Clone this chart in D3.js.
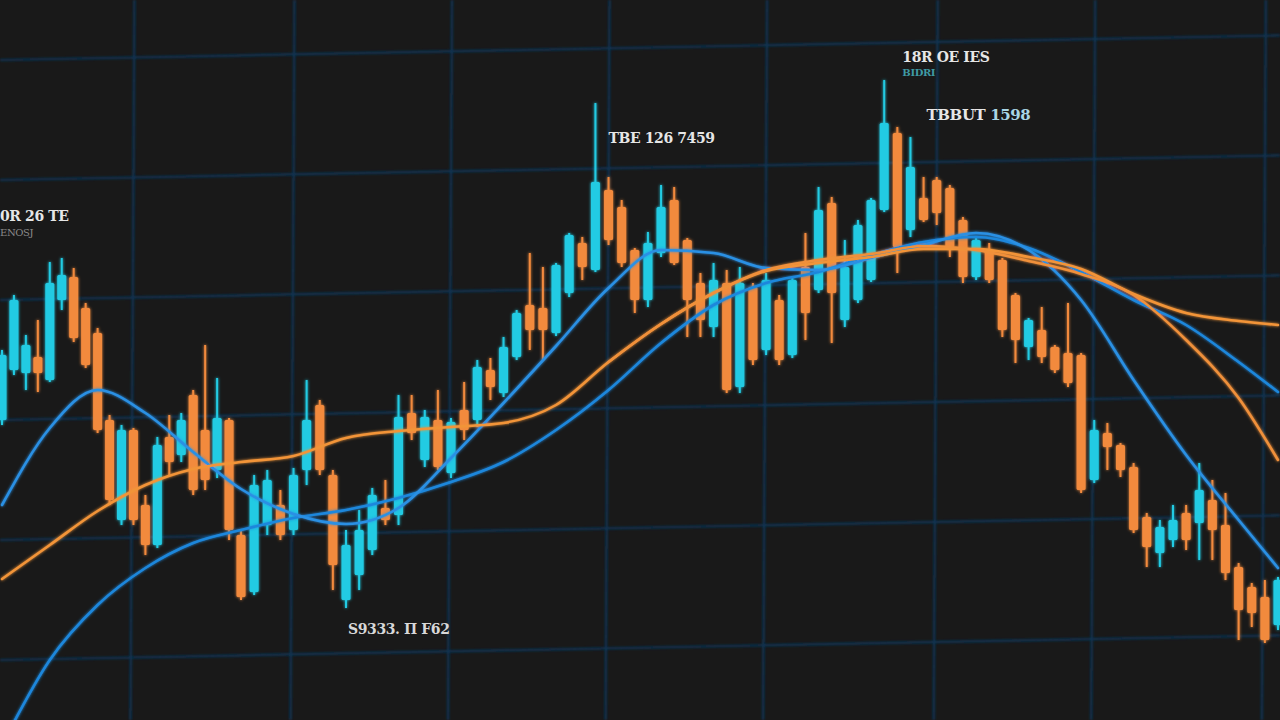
<!DOCTYPE html>
<html>
<head>
<meta charset="utf-8">
<script src="https://cdn.jsdelivr.net/npm/d3@7/dist/d3.min.js"></script>
<style>
  html, body { margin: 0; padding: 0; background: #191919; }
  svg { display: block; }
</style>
</head>
<body>
<svg id="chart" width="1280" height="720"></svg>
<script>
// ---- DATA ----
// candles: open, high, low, close per trading day (index)
const opens  = [130.0,135.0,134.7,136.3,134.0,142.0,144.3,141.2,138.7,130.0,120.0,129.0,121.5,117.5,128.3,126.5,132.5,129.0,125.0,130.0,
                118.5,112.8,119.5,121.5,119.0,125.0,131.5,124.5,112.0,114.5,117.0,121.2,120.5,130.7,126.0,130.0,124.7,131.0,130.0,135.0,
                132.7,136.3,141.5,141.2,138.7,142.7,147.7,145.0,153.0,151.3,147.0,142.0,146.7,152.0,148.0,143.7,139.3,143.7,133.3,143.3,
                137.0,142.0,136.5,145.3,143.0,151.7,140.0,142.0,144.0,151.0,158.7,149.0,152.2,154.0,153.2,150.0,144.3,147.0,146.0,142.5,
                137.3,139.0,137.3,136.7,136.5,124.0,128.7,127.5,125.3,120.3,116.7,118.0,120.7,119.7,122.0,119.5,115.3,113.3,112.3,109.5];
const highs  = [137.0,142.5,138.5,140.0,145.8,146.2,145.2,141.7,139.2,130.5,129.5,129.2,122.5,128.3,130.5,130.7,133.0,137.5,134.2,130.2,
                119.0,124.5,125.0,123.0,125.2,134.0,132.0,125.0,119.0,121.0,123.2,124.0,132.5,132.5,131.0,133.0,130.2,133.8,136.0,136.2,
                138.3,141.0,146.7,145.3,145.7,148.7,148.3,161.7,154.3,152.0,147.2,148.8,153.5,153.3,148.2,144.7,145.7,145.0,145.3,143.7,
                144.7,142.5,144.3,148.7,153.3,152.3,148.0,150.0,152.2,164.0,159.3,158.3,154.3,154.3,153.5,150.3,148.3,147.7,146.2,142.7,
                140.2,141.3,137.5,141.7,136.7,130.0,129.7,127.7,125.7,120.7,120.0,121.5,121.5,125.7,124.0,122.7,115.7,113.7,114.0,114.3];
const lows   = [129.5,134.5,133.0,132.8,133.8,141.0,137.8,135.2,128.7,121.5,119.5,119.5,116.5,117.2,124.5,125.8,122.5,123.0,124.2,118.0,
                112.0,112.5,118.5,118.0,118.5,123.5,124.5,113.0,111.2,113.0,116.5,119.5,119.5,128.0,125.3,125.0,124.2,128.0,129.3,132.0,
                132.3,136.0,137.0,136.0,138.4,142.3,144.0,144.8,147.5,145.3,140.7,141.3,146.3,145.5,138.3,138.3,138.3,132.7,132.7,135.5,
                136.5,135.5,136.2,138.0,142.7,137.7,139.3,141.7,143.8,150.8,144.7,148.3,149.8,149.5,146.3,143.7,144.0,143.7,138.3,135.7,
                136.0,135.7,134.7,133.3,122.7,123.7,125.0,124.3,118.7,115.3,115.3,117.3,117.0,116.0,116.0,114.0,108.0,109.3,107.7,109.0];
const closes = [136.5,142.0,137.5,134.7,143.7,144.5,138.2,135.5,129.0,122.0,129.0,120.0,117.5,127.5,125.8,130.0,123.0,124.0,130.2,119.0,
                112.3,123.5,124.0,118.5,124.5,130.0,125.0,115.5,117.5,119.0,122.5,120.0,130.3,128.7,130.3,125.3,129.8,129.0,135.3,133.3,
                137.3,140.7,139.0,139.0,145.5,148.5,145.3,153.8,148.0,145.7,142.0,147.7,151.3,145.7,142.0,140.0,144.0,133.0,143.7,136.0,
                144.0,136.0,144.0,140.7,151.0,142.7,145.3,149.5,152.0,159.7,147.3,155.3,150.0,150.7,147.3,144.3,148.0,144.0,139.0,138.0,
                140.0,136.3,135.0,133.7,123.0,129.0,127.3,125.0,119.0,117.3,119.3,120.0,118.0,123.0,119.0,114.7,111.0,110.7,108.0,114.0];

// moving-average lines, sampled at these day indices
const maDays = [0,4,8,12,16,20,24,28,32,36,40,44,48,52,56,60,64,68,72,76,80,84,88,92,96,99];
const maSlowOrange = [114.1,117.5,120.9,123.5,125.1,125.8,126.4,128.2,128.9,129.3,129.7,131.5,135.8,139.6,142.7,144.9,145.7,146.3,147.1,147.1,146.3,145.1,142.6,140.7,139.9,139.5];
const maFastBlue   = [121.5,129.2,133.0,130.7,126.8,123.1,120.6,119.6,121.2,126.2,131.7,137.4,143.2,147.0,146.7,145.2,145.0,146.2,147.5,148.7,147.0,142.0,134.0,126.5,120.0,115.2];
const maSlowBlue   = [97.5,106.0,111.5,115.2,117.7,119.0,120.2,121.0,122.2,123.8,125.8,129.0,133.0,137.7,141.5,143.7,144.8,146.5,147.8,148.3,147.2,144.8,142.0,139.5,135.8,132.8];
const maFastOrangeDays = [48,52,56,60,64,68,72,76,80,84,88,92,96,99];
const maFastOrange = [135.8,139.6,142.7,145.0,146.0,146.6,147.4,147.0,145.9,144.6,142.5,138.0,132.2,126.0];

// grid ticks
const priceTicks = [166,154,142,130,118,106];
const dayTicks = [11,24,36,48,60,73,85,98];

// annotation labels: text parts, anchor day, anchor price
const labelTexts  = [["TBE 126 7459"], ["18R OE IES"], ["BIDRI"], ["TBBUT ", "1598"], ["0R 26 TE"], ["ENOSJ"], ["S9333. Π F62"]];
const labelDays   = [48, 70, 70, 72, 0, 0, 28];
const labelPrices = [157.7, 165.8, 164.4, 160.0, 149.9, 148.4, 108.6];

// ---- DRAW ----
const W = 1280, H = 720;
const svg = d3.select("#chart");
const x = d3.scaleLinear().domain([0, 20, 99]).range([2, 241, 1278]);
const y = d3.scaleLinear().domain([100, 172]).range([H, 0]);

svg.append("rect").attr("width", W).attr("height", H).attr("fill", "#191919");

const defs = svg.append("defs");
const glow = defs.append("filter").attr("id", "glow").attr("x", "-20%").attr("y", "-20%").attr("width", "140%").attr("height", "140%");
glow.append("feGaussianBlur").attr("stdDeviation", 1.6).attr("result", "b");
const mg = glow.append("feMerge");
mg.append("feMergeNode").attr("in", "b");
mg.append("feMergeNode").attr("in", "SourceGraphic");

const gridBlur = defs.append("filter").attr("id", "gblur");
gridBlur.append("feGaussianBlur").attr("stdDeviation", 0.8);

// grid (slightly tilted)
const grid = svg.append("g").attr("filter", "url(#gblur)");
const hGrid = grid.append("g").attr("transform", "skewY(-1.1)");
hGrid.selectAll("line").data(priceTicks).join("line")
  .attr("x1", 0).attr("x2", W)
  .attr("y1", d => y(d)).attr("y2", d => y(d))
  .attr("stroke", "#0c3556").attr("stroke-width", 2.2);
grid.append("g").selectAll("line").data(dayTicks).join("line")
  .attr("x1", d => x(d) + 1).attr("x2", d => x(d) - 3)
  .attr("y1", 0).attr("y2", H)
  .attr("stroke", "#0c3556").attr("stroke-width", 2.2);

// candles
const upColor = "#22cbe3", downColor = "#f28a3e";
const candles = opens.map((o, i) => ({i, o, h: highs[i], l: lows[i], c: closes[i]}));
const bodyW = 9;
const cg = svg.append("g").attr("filter", "url(#glow)");
cg.selectAll("line.wick").data(candles).join("line")
  .attr("class", "wick")
  .attr("x1", d => x(d.i)).attr("x2", d => x(d.i))
  .attr("y1", d => y(d.h)).attr("y2", d => y(d.l))
  .attr("stroke", d => d.c >= d.o ? upColor : downColor)
  .attr("stroke-width", 2);
cg.selectAll("rect.body").data(candles).join("rect")
  .attr("class", "body")
  .attr("x", d => x(d.i) - bodyW / 2)
  .attr("width", bodyW)
  .attr("y", d => y(Math.max(d.o, d.c)))
  .attr("height", d => Math.max(2, Math.abs(y(d.o) - y(d.c))))
  .attr("rx", 1.5)
  .attr("fill", d => d.c >= d.o ? upColor : downColor);

// moving averages
const lineGen = d3.line().x(d => x(d[0])).y(d => y(d[1])).curve(d3.curveMonotoneX);
const lg = svg.append("g").attr("filter", "url(#glow)").attr("fill", "none").attr("stroke-linecap", "round");
const series = [
  {days: maDays, vals: maSlowBlue, color: "#1f87dc"},
  {days: maDays, vals: maFastBlue, color: "#2a90e4"},
  {days: maDays, vals: maSlowOrange, color: "#f29438"},
  {days: maFastOrangeDays, vals: maFastOrange, color: "#f0903a"}
];
series.forEach(s => {
  lg.append("path")
    .datum(s.days.map((d, k) => [d, s.vals[k]]))
    .attr("d", lineGen)
    .attr("stroke", s.color)
    .attr("stroke-width", 2.6);
});

// labels
const styles = [
  {size: 14, fills: ["#e6e6e6"], weight: "bold", dx: 0},
  {size: 14, fills: ["#e6e6e6"], weight: "bold", dx: 5},
  {size: 10, fills: ["#3f9aa4"], weight: "bold", dx: 5},
  {size: 15, fills: ["#e6e6e6", "#a9d6e6"], weight: "bold", dx: 3},
  {size: 14, fills: ["#e6e6e6"], weight: "bold", dx: -2},
  {size: 10, fills: ["#8a8a8a"], weight: "normal", dx: -2},
  {size: 14, fills: ["#d8d8d8"], weight: "bold", dx: 2}
];
const tg = svg.append("g").selectAll("text").data(labelTexts).join("text")
  .attr("x", (d, k) => x(labelDays[k]) + styles[k].dx)
  .attr("y", (d, k) => y(labelPrices[k]))
  .attr("font-family", "'DejaVu Serif', serif")
  .attr("font-size", (d, k) => styles[k].size)
  .attr("font-weight", (d, k) => styles[k].weight)
  .attr("letter-spacing", -0.4)
  .attr("xml:space", "preserve")
  .style("white-space", "pre");
tg.each(function(parts, k) {
  const t = d3.select(this);
  parts.forEach((p, j) => {
    t.append("tspan").attr("fill", styles[k].fills[j]).text(p);
  });
});
</script>
</body>
</html>
